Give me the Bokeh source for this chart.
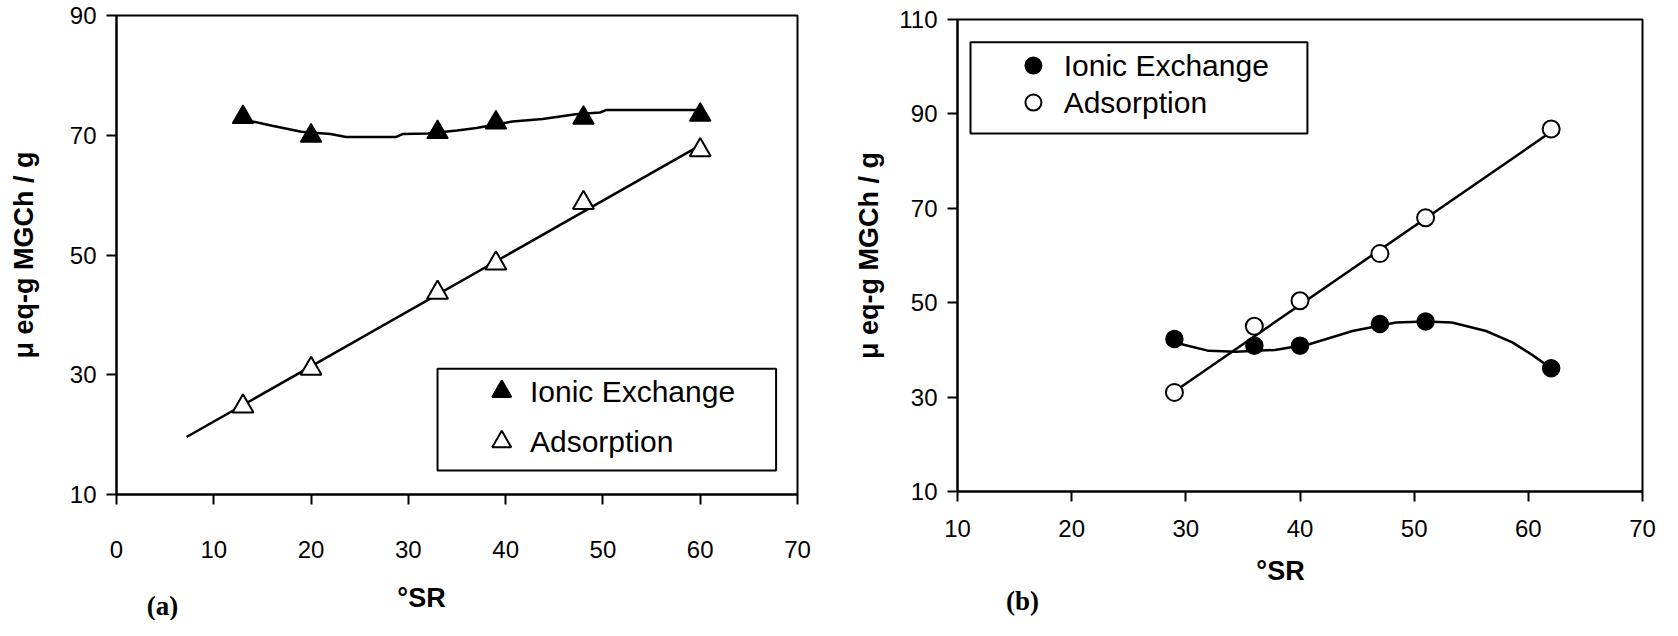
from bokeh.plotting import figure
from bokeh.models import Range1d, FixedTicker, Label, BoxAnnotation
from bokeh.layouts import row, column
from bokeh.embed import file_html
from bokeh.resources import INLINE

# ---- panel (a) ----
sr_a = [13, 20, 33, 39, 48, 60]
ionic_a = [73.0, 69.9, 70.5, 72.1, 72.9, 73.4]
adsorp_a = [24.7, 31.0, 43.7, 48.6, 58.7, 67.5]
# fitted curves
ionic_fit_a_x = [13.1, 16, 19, 22, 23.6, 28.7, 29.4, 32, 35, 37, 40.7, 43.8, 47.2, 49.7, 50.3, 60]
ionic_fit_a_y = [72.6, 71.6, 70.6, 70.2, 69.7, 69.7, 70.2, 70.3, 70.8, 71.2, 72.3, 72.7, 73.5, 73.8, 74.2, 74.2]
adsorp_fit_a_x = [7.2, 60]
adsorp_fit_a_y = [19.6, 68.3]
xticks_a = [0, 10, 20, 30, 40, 50, 60, 70]
yticks_a = [10, 30, 50, 70, 90]

# ---- panel (b) ----
sr_b = [29, 36, 40, 47, 51, 62]
ionic_b = [42.3, 40.9, 40.9, 45.5, 46.0, 36.1]
adsorp_b = [31.0, 45.0, 50.4, 60.4, 68.0, 86.8]
ionic_fit_b_x = [29, 30, 32, 34.4, 37.8, 40.8, 44.6, 48.4, 51, 53.3, 56.3, 58.6, 60.3, 62]
ionic_fit_b_y = [41.6, 41.0, 39.8, 39.6, 40.0, 41.2, 44.0, 45.8, 46.0, 45.8, 44.0, 41.6, 39.0, 36.1]
adsorp_fit_b_x = [29, 62]
adsorp_fit_b_y = [31.2, 86.2]
xticks_b = [10, 20, 30, 40, 50, 60, 70]
yticks_b = [10, 30, 50, 70, 90, 110]

series_names = ["Ionic Exchange", "Adsorption"]

FONT = "Liberation Sans"
YLABEL = "\u03bc eq-g MGCh / g"
XLABEL = "\u00b0SR"


def style(p, xticks, yticks, x_standoff, yl_standoff):
    p.grid.visible = False
    p.outline_line_color = "black"
    p.outline_line_width = 2
    p.outline_line_alpha = 1
    p.xaxis.ticker = FixedTicker(ticks=xticks)
    p.yaxis.ticker = FixedTicker(ticks=yticks)
    for ax in (p.xaxis, p.yaxis):
        ax.axis_line_width = 2
        ax.axis_line_color = "black"
        ax.major_tick_line_width = 2
        ax.major_tick_line_color = "black"
        ax.major_tick_in = 0
        ax.major_tick_out = 10
        ax.minor_tick_out = 0
        ax.minor_tick_in = 0
        ax.major_label_text_font = FONT
        ax.major_label_text_font_size = "24px"
        ax.major_label_text_color = "black"
    p.yaxis.axis_label = YLABEL
    p.yaxis.axis_label_text_font = FONT
    p.yaxis.axis_label_text_font_style = "bold"
    p.yaxis.axis_label_text_color = "black"
    p.yaxis.axis_label_text_font_size = "27px"
    p.yaxis.axis_label_standoff = yl_standoff
    p.xaxis.major_label_standoff = x_standoff
    p.yaxis.major_label_standoff = 10


def legend_box(p, left, right, top, bottom, mx, my, tx, markers, size):
    # hand-made legend box sitting inside the frame
    p.add_layout(BoxAnnotation(left=left, right=right, top=top, bottom=bottom,
                               fill_color="white", fill_alpha=1,
                               line_color="black", line_width=2, line_alpha=1,
                               level="underlay"))
    for (marker, fill), yy, name in zip(markers, my, series_names):
        p.scatter([mx], [yy], marker=marker, size=size, fill_color=fill,
                  line_color="black", line_width=2)
        p.add_layout(Label(x=tx, y=yy, text=name, text_align="left",
                           text_baseline="middle", text_font=FONT,
                           text_font_size="30px", text_color="black"))


def strip(width, height, left, right, x0, x1, y0, y1, sr_xy, tag_xy, tag):
    # bottom strip holding the x title and the panel tag, in page pixels
    s = figure(width=width, height=height, title=None, toolbar_location=None,
               output_backend="svg", x_range=Range1d(x0, x1),
               y_range=Range1d(y1, y0), x_axis_location=None,
               y_axis_location=None, min_border_left=left,
               min_border_right=right, min_border_top=0, min_border_bottom=0)
    s.outline_line_color = None
    s.grid.visible = False
    s.add_layout(Label(x=sr_xy[0], y=sr_xy[1], text=XLABEL, text_align="center",
                       text_baseline="middle", text_font=FONT,
                       text_font_style="bold", text_font_size="27px",
                       text_color="black"))
    s.add_layout(Label(x=tag_xy[0], y=tag_xy[1], text=tag, text_align="center",
                       text_baseline="middle", text_font="Liberation Serif",
                       text_font_style="bold", text_font_size="27px",
                       text_color="black"))
    return s


# panel (a)
pa = figure(width=837, height=572, title=None, toolbar_location=None,
            output_backend="svg", x_range=Range1d(0, 70), y_range=Range1d(10, 90),
            min_border_left=116, min_border_right=40, min_border_top=15,
            min_border_bottom=78)
style(pa, xticks_a, yticks_a, 36, 28)

pa.line(ionic_fit_a_x, ionic_fit_a_y, line_color="black", line_width=2.5)
pa.line(adsorp_fit_a_x, adsorp_fit_a_y, line_color="black", line_width=2.5)
pa.scatter(sr_a, ionic_a, marker="triangle", size=21, fill_color="black",
           line_color="black", line_width=1.5)
pa.scatter(sr_a, adsorp_a, marker="triangle", size=21, fill_color="white",
           line_color="black", line_width=2)
legend_box(pa, 33.0, 67.8, 31.0, 14.0, 39.6, [27.2, 18.8], 42.5,
           [("triangle", "black"), ("triangle", "white")], 19)
sa = strip(837, 48, 116, 40, 124, 805, 580, 628, (429, 605), (170, 613), "(a)")

# panel (b)
pb = figure(width=825, height=557, title=None, toolbar_location=None,
            output_backend="svg", x_range=Range1d(10, 70), y_range=Range1d(10, 110),
            min_border_left=120, min_border_right=20, min_border_top=19,
            min_border_bottom=66)
style(pb, xticks_b, yticks_b, 18, 12)

pb.line(ionic_fit_b_x, ionic_fit_b_y, line_color="black", line_width=2.5)
pb.line(adsorp_fit_b_x, adsorp_fit_b_y, line_color="black", line_width=2.5)
pb.scatter(sr_b, ionic_b, marker="circle", size=17, fill_color="black",
           line_color="black", line_width=1.5)
pb.scatter(sr_b, adsorp_b, marker="circle", size=17, fill_color="white",
           line_color="black", line_width=2)
legend_box(pb, 11.14, 40.65, 105.2, 85.85, 16.65, [100.25, 92.4], 19.3,
           [("circle", "black"), ("circle", "white")], 16)
sb = strip(825, 63, 120, 20, 965, 1650, 565, 628, (1288, 578), (1030, 608), "(b)")

layout = row(column(pa, sa), column(pb, sb))
open("out.html", "w").write(file_html(layout, INLINE))
